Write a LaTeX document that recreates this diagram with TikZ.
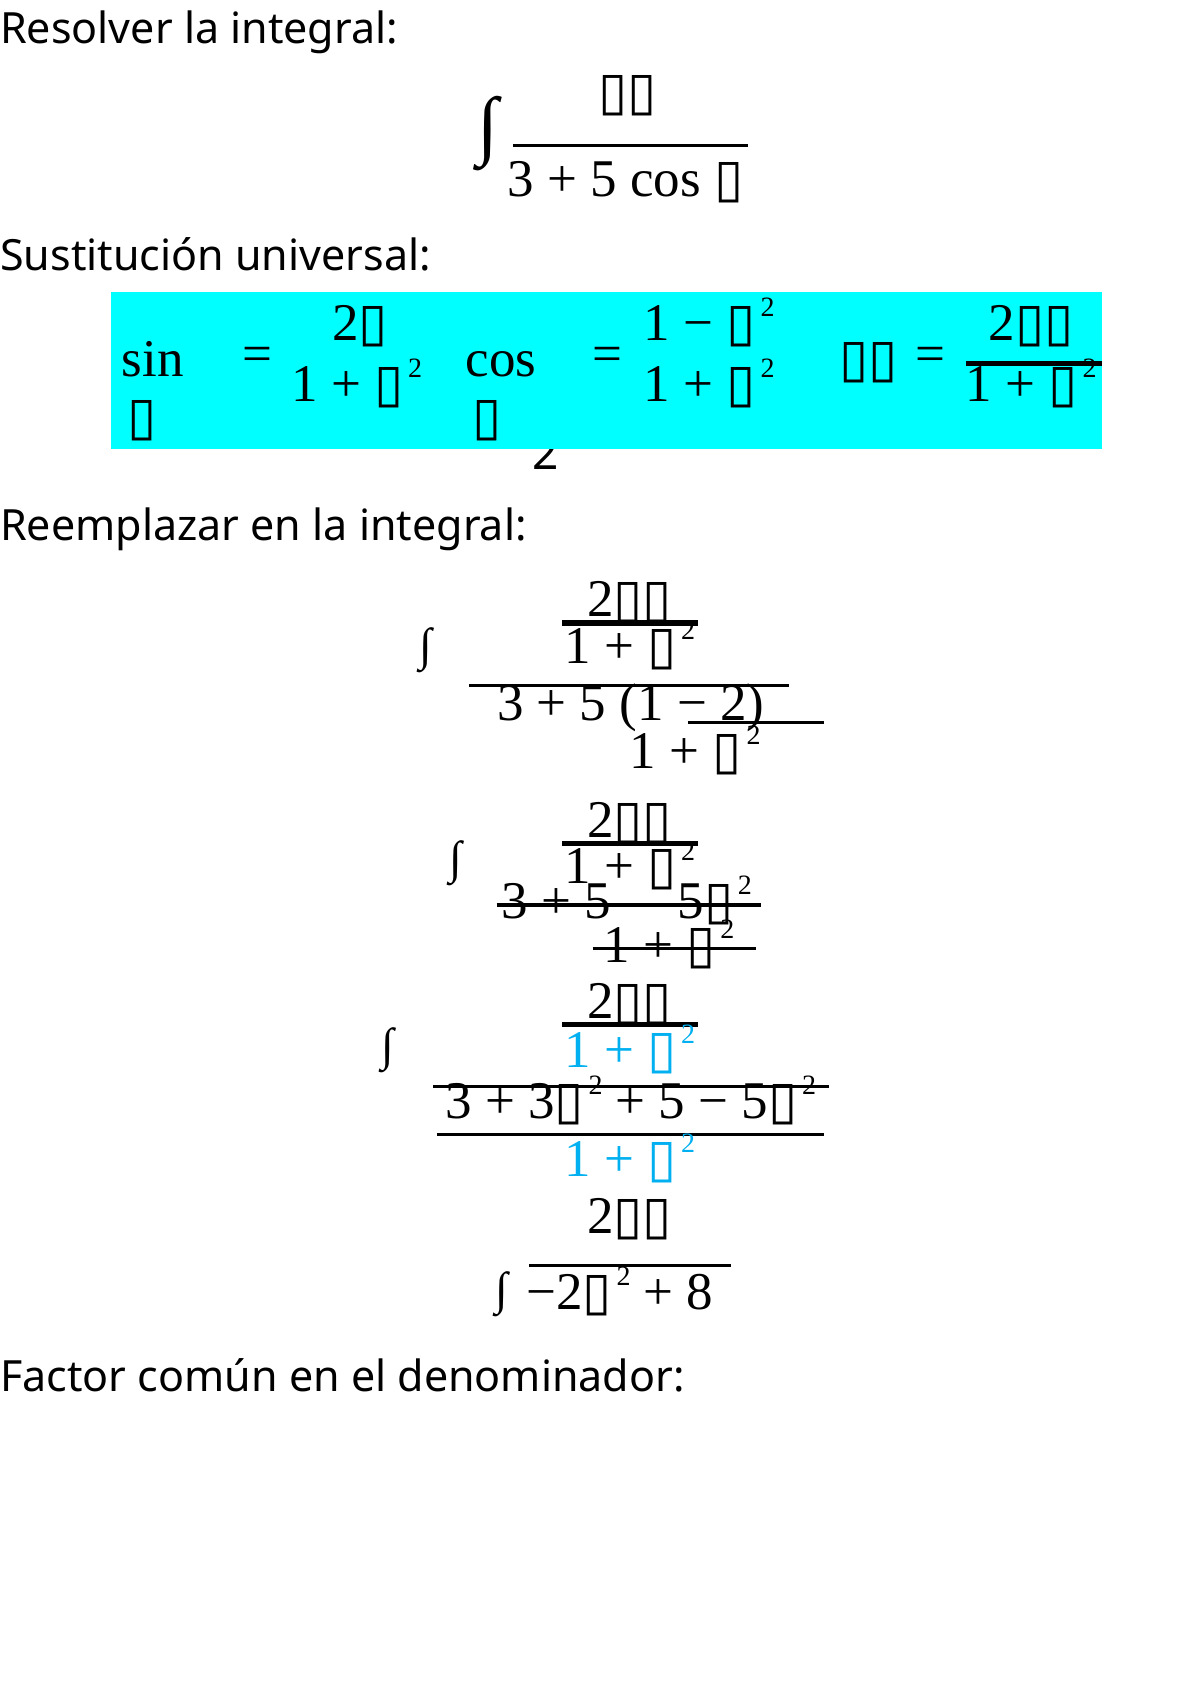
\documentclass[tikz,border=0pt]{standalone}
\usepackage{fontspec}
\setmainfont{Noto Sans}
\newfontfamily\mfont{Liberation Serif}
\newfontfamily\bxfont{DejaVu Sans}
\newcommand{\bq}{{\bxfont ▯}}
\newcommand{\sqr}{\raisebox{0.45em}{\fontsize{28}{28}\selectfont\,2}}
\definecolor{aqua}{RGB}{0,255,255}
\definecolor{sky}{RGB}{0,176,240}
\begin{document}
\begin{tikzpicture}[x=1.0909pt,y=-1.0909pt,
  txt/.style={font=\fontsize{43}{46}\selectfont, inner sep=0, anchor=base west},
  m/.style={font=\mfont\fontsize{53}{56}\selectfont, inner sep=0, anchor=base},
  bar/.style={line width=4.5pt},
  thin/.style={line width=3pt},
  blu/.style={text=sky},
  intg/.style={font=\mfont\fontsize{46}{46}\selectfont, inner sep=0, anchor=base}]
\useasboundingbox (0,0) rectangle (1100,1556);
\fill[white] (0,0) rectangle (1100,1556);
\node[txt] (t1) at (0,40) {Resolver la integral:};
\node[font=\mfont\bfseries\fontsize{76}{76}\selectfont, inner sep=0, anchor=base] (i0) at (447,138) {∫};
\node[m] (n0) at (575,100) {\bq\bq};
\draw[thin] (470,133) -- (685,133);
\node[m] (d0) at (573,180) {3 + 5 cos \bq};
\node[txt] (t2) at (0,248) {Sustitución universal:};
\node[font=\fontsize{46}{46}\selectfont, inner sep=0, anchor=base] (two) at (500,430) {2};
\fill[aqua] (102,268) rectangle (1010,411);
\node[m] (sin) at (140,345) {sin};
\node[m] (sinb) at (130,398) {\bq};
\node[m] (e1) at (236,340) {=};
\node[m] (s1) at (330,312) {2\bq};
\node[m] (s2) at (327,368) {1 + \bq\sqr};
\node[m] (cos) at (459,345) {cos};
\node[m] (cosb) at (446,398) {\bq};
\node[m] (e2) at (557,340) {=};
\node[m] (c1) at (650,312) {1 − \bq\sqr};
\node[m] (c2) at (650,368) {1 + \bq\sqr};
\node[m] (dx) at (796,345) {\bq\bq};
\node[m] (e3) at (853,340) {=};
\node[m] (x1) at (945,312) {2\bq\bq};
\draw[line width=5.5pt] (885,333) -- (1010,333);
\node[m] (x2) at (945,368) {1 + \bq\sqr};
\node[txt] (t3) at (0,495) {Reemplazar en la integral:};
% block 1
\node[intg] (i1) at (390,605) {∫};
\node[m] (a1) at (577,565) {2\bq\bq};
\draw[line width=5.5pt] (515,571) -- (640,571);
\node[m] (a2) at (577,608) {1 + \bq\sqr};
\draw[thin] (430,628) -- (723,628);
\node[m] (a3) at (578,660) {3 + 5 (1 − 2)};
\draw[thin] (630,662) -- (755,662);
\node[m] (a4) at (637,704) {1 + \bq\sqr};
% block 2
\node[intg] (i2) at (418,800) {∫};
\node[m] (b1) at (577,767) {2\bq\bq};
\draw[line width=5.5pt] (515,773) -- (640,773);
\node[m] (b2) at (577,810) {1 + \bq\sqr};
\node[m] (b3a) at (510,842) {3 + 5};
\node[m] (b3b) at (655,842) {5\bq\sqr};
\draw[line width=4pt] (455,829) -- (697,829);
\node[m] (b4) at (613,882) {1 + \bq\sqr};
\draw[thin] (543,869) -- (693,869);
% block 3
\node[intg] (i3) at (355,972) {∫};
\node[m] (c31) at (577,933) {2\bq\bq};
\draw[line width=5.5pt] (515,939) -- (640,939);
\node[m, blu] (c32) at (577,978) {1 + \bq\sqr};
\node[m] (c33) at (578,1025) {3 + 3\bq\sqr{} + 5 − 5\bq\sqr};
\draw[thin] (397,996) -- (760,996);
\draw[thin] (400,1040) -- (755,1040);
\node[m, blu] (c34) at (577,1078) {1 + \bq\sqr};
% block 4
\node[m] (d41) at (577,1130) {2\bq\bq};
\node[intg] (i4) at (460,1195) {∫};
\draw[thin] (485,1160) -- (670,1160);
\node[m] (d42) at (568,1200) {−2\bq\sqr{} + 8};
\node[txt] (t4) at (0,1275) {Factor común en el denominador:};
\end{tikzpicture}
\end{document}
